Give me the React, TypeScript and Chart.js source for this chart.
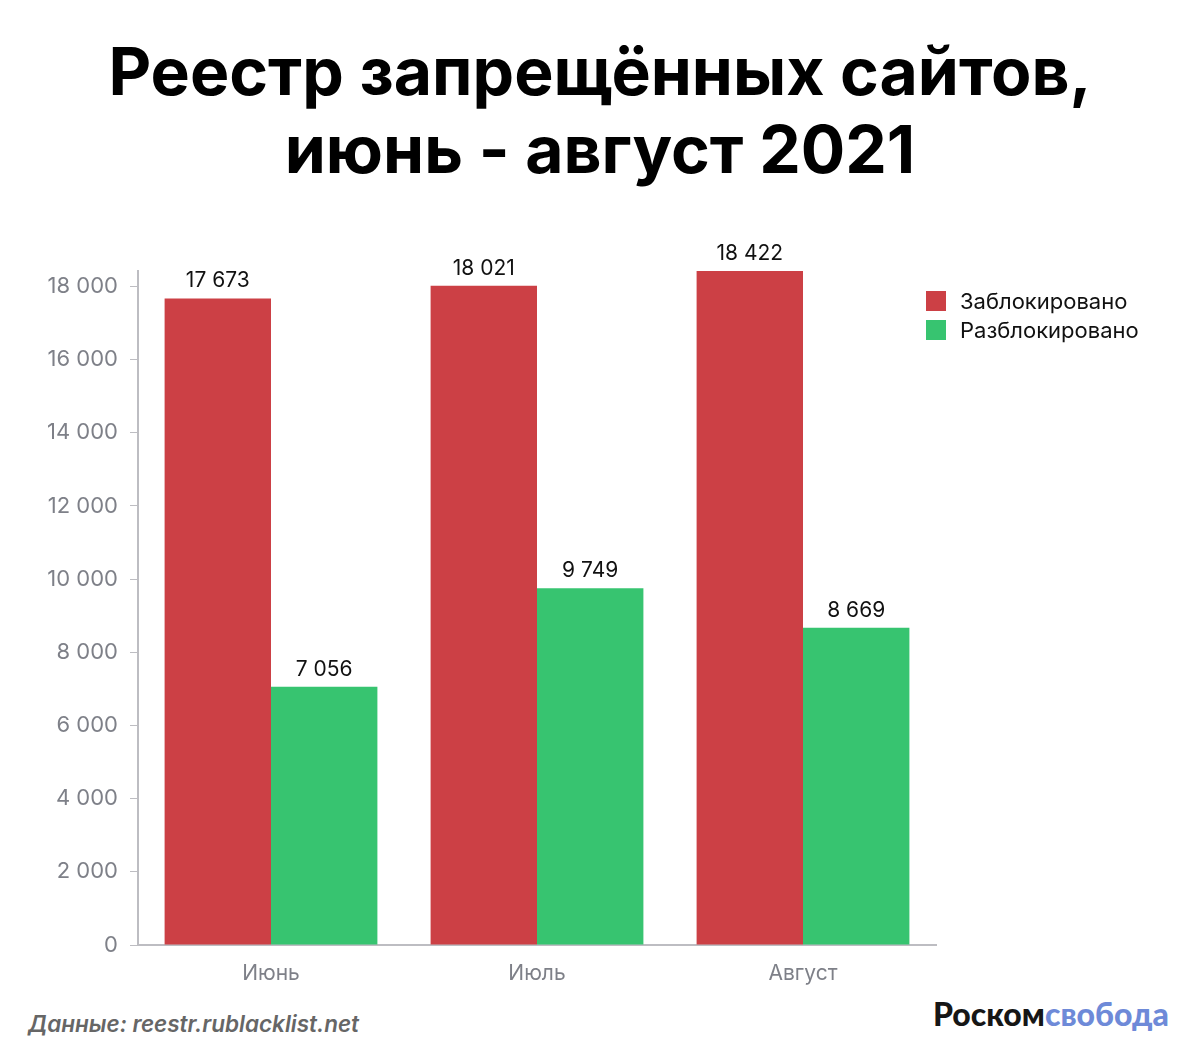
import { useEffect, useRef } from "react";
import { Chart, registerables } from "chart.js";

Chart.register(...registerables);

const months = ["Июнь", "Июль", "Август"];
const blocked = [17673, 18021, 18422];
const unblocked = [7056, 9749, 8669];
const seriesNames = ["Заблокировано", "Разблокировано"];
const tickValues = [0, 2000, 4000, 6000, 8000, 10000, 12000, 14000, 16000, 18000];

const RED = "#CC4045";
const GREEN = "#37C470";
const AXIS = "#BDBDC2";
const TICK = "#7E8088";
const FONT = "Inter, 'Noto Sans', sans-serif";

const fmt = (v: number) => String(Math.round(v)).replace(/\B(?=(\d{3})+(?!\d))/g, " ");

const valueLabels = {
  id: "valueLabels",
  afterDatasetsDraw(chart: Chart) {
    const { ctx } = chart;
    ctx.save();
    ctx.font = `21px ${FONT}`;
    ctx.fillStyle = "#111";
    ctx.textAlign = "center";
    ctx.textBaseline = "alphabetic";
    chart.data.datasets.forEach((ds, i) => {
      chart.getDatasetMeta(i).data.forEach((bar: any, j) => {
        ctx.fillText(fmt(ds.data[j] as number), bar.x, bar.y - 11);
      });
    });
    ctx.restore();
  },
};

export default function App() {
  const ref = useRef<HTMLCanvasElement>(null);

  useEffect(() => {
    document.body.style.margin = "0";
    const canvas = ref.current;
    if (!canvas) return;
    const chart = new Chart(canvas, {
      type: "bar",
      data: {
        labels: months,
        datasets: [
          { label: seriesNames[0], data: blocked, backgroundColor: RED },
          { label: seriesNames[1], data: unblocked, backgroundColor: GREEN },
        ],
      },
      options: {
        animation: false,
        responsive: false,
        maintainAspectRatio: false,
        layout: { padding: { top: 51, right: 264, left: 0, bottom: 0 } },
        datasets: { bar: { categoryPercentage: 0.8, barPercentage: 1.0 } },
        plugins: {
          legend: { display: false },
          tooltip: { enabled: false },
        },
        scales: {
          x: {
            grid: { drawOnChartArea: false, drawTicks: false },
            border: { display: true, color: AXIS, width: 2 },
            ticks: { color: TICK, font: { family: FONT, size: 21 }, padding: 16 },
            afterFit: (axis: any) => {
              axis.height = 45;
            },
          },
          y: {
            min: 0,
            max: 18422,
            grid: { drawOnChartArea: false, drawTicks: true, tickLength: 8, color: AXIS },
            border: { display: true, color: AXIS, width: 2 },
            ticks: {
              color: TICK,
              font: { family: FONT, size: 22 },
              padding: 12,
              callback: (v: any) => fmt(Number(v)),
            },
            afterBuildTicks: (axis: any) => {
              axis.ticks = tickValues.map((value) => ({ value }));
            },
            afterFit: (axis: any) => {
              axis.width = 138;
            },
          },
        },
      },
      plugins: [valueLabels],
    });
    return () => chart.destroy();
  }, []);

  return (
    <div
      style={{
        position: "absolute",
        left: 0,
        top: 0,
        width: 1200,
        height: 1057,
        background: "#fff",
        fontFamily: FONT,
        overflow: "hidden",
      }}
    >
      <div
        style={{
          position: "absolute",
          top: 32,
          left: 0,
          width: 1200,
          textAlign: "center",
          fontSize: 66,
          fontWeight: 700,
          lineHeight: "78px",
          color: "#000",
        }}
      >
        Реестр запрещённых сайтов,
        <br />
        июнь - август 2021
      </div>
      <canvas
        ref={ref}
        width={1200}
        height={770}
        style={{ position: "absolute", left: 0, top: 220, width: 1200, height: 770 }}
      />
      <div style={{ position: "absolute", left: 926, top: 286, fontSize: 22, color: "#111" }}>
        {seriesNames.map((name, i) => (
          <div key={name} style={{ display: "flex", alignItems: "center", height: 29 }}>
            <span
              style={{
                display: "inline-block",
                width: 20,
                height: 20,
                background: i === 0 ? RED : GREEN,
                marginRight: 14,
              }}
            />
            {name}
          </div>
        ))}
      </div>
      <div
        style={{
          position: "absolute",
          left: 28,
          top: 1010,
          fontSize: 22.5,
          fontWeight: 600,
          fontStyle: "italic",
          color: "#666",
        }}
      >
        Данные: reestr.rublacklist.net
      </div>
      <div
        style={{
          position: "absolute",
          right: 31,
          top: 994,
          fontSize: 32,
          fontWeight: 900,
          fontFamily: "Lato, sans-serif",
        }}
      >
        <span style={{ color: "#161616" }}>Роском</span>
        <span style={{ color: "#6E8AD8" }}>свобода</span>
      </div>
    </div>
  );
}
